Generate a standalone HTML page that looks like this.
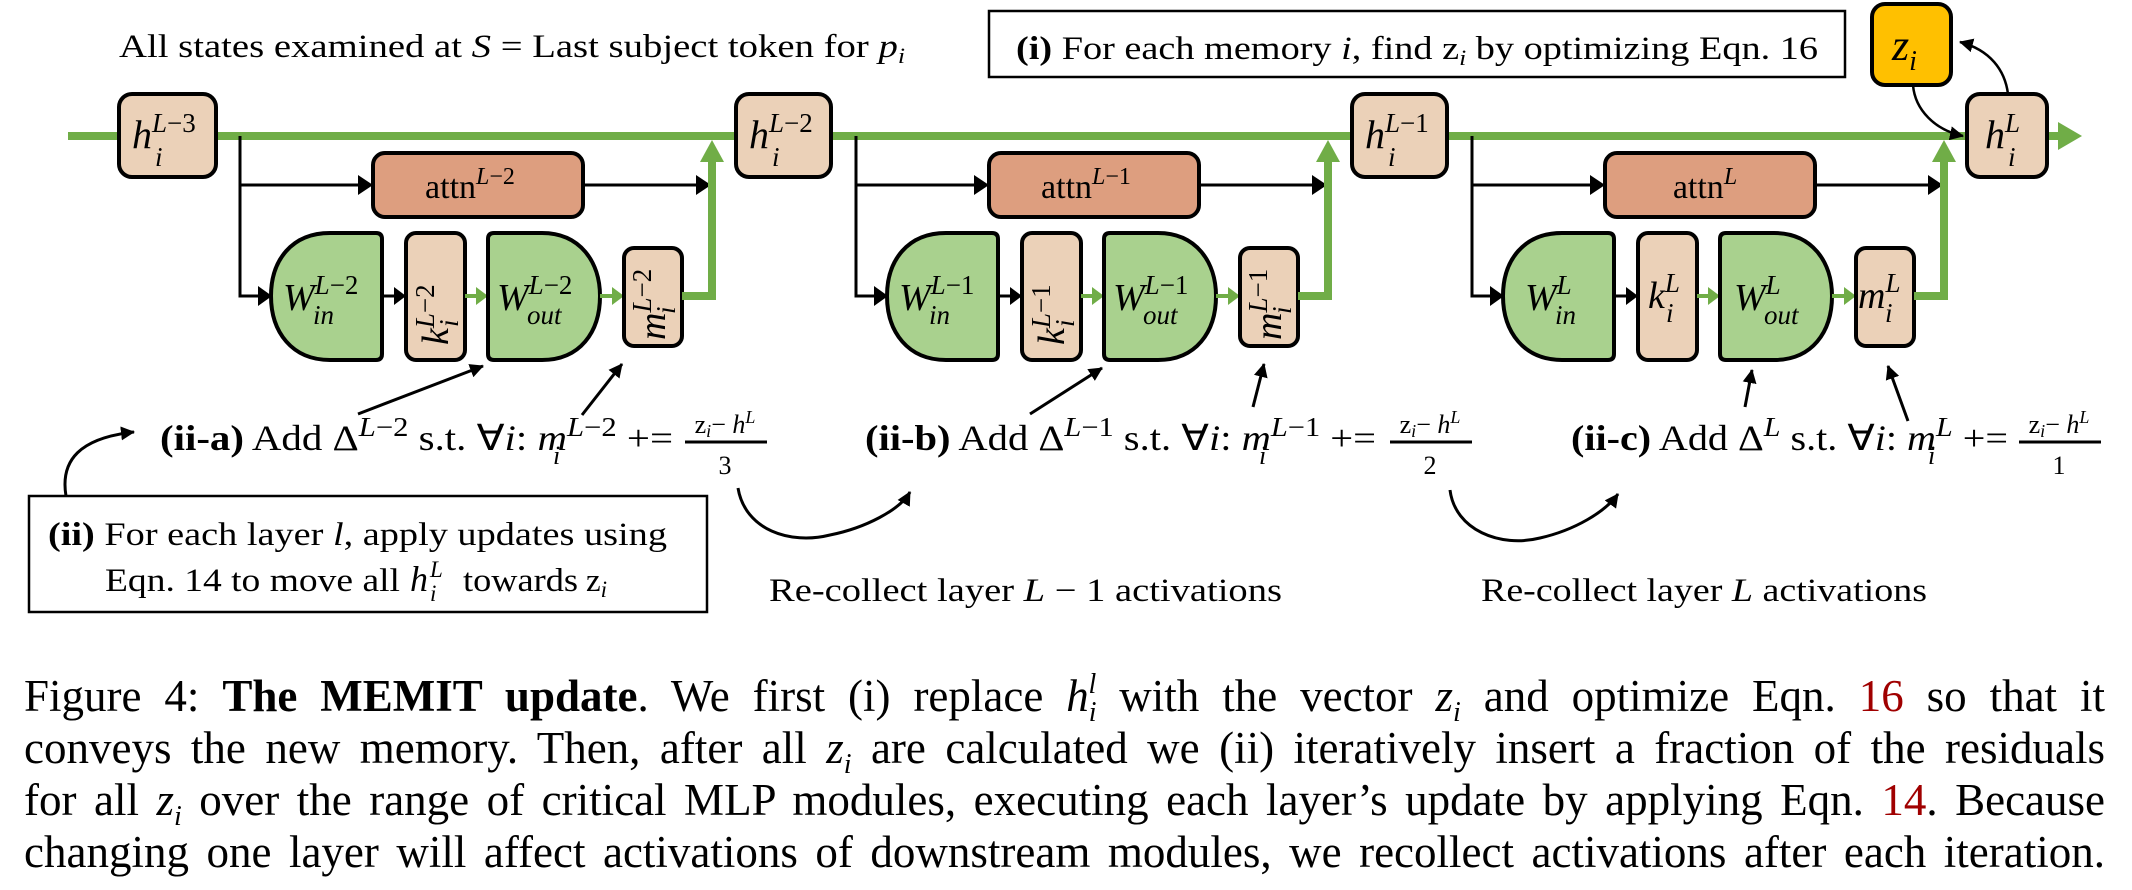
<!DOCTYPE html>
<html><head><meta charset="utf-8"><style>
body{margin:0;width:2132px;height:890px;background:#fff;overflow:hidden;position:relative;font-family:"Liberation Serif",serif}
svg{position:absolute;left:0;top:0}
.cap{position:absolute;left:24px;width:2081px;font-size:45px;line-height:52px;height:52px;text-align:justify;text-align-last:justify;white-space:nowrap;color:#000}
.r{color:#a00000}
.sb{position:relative;top:10px;font-size:28px;line-height:0}
.sp{position:relative;top:-18px;font-size:28px;line-height:0}
</style></head><body>
<svg width="2132" height="650" viewBox="0 0 2132 650" font-family="Liberation Serif, serif">
<defs>
<marker id="abk" markerWidth="14" markerHeight="14" refX="13" refY="7" orient="auto" markerUnits="userSpaceOnUse" viewBox="0 0 14 14"><path d="M0,0L14,7L0,14Z" fill="#000"/></marker>
</defs>
<line x1="68" y1="136" x2="2060" y2="136" stroke="#70ad47" stroke-width="8"/>
<path d="M2058,122L2082,136L2058,150Z" fill="#70ad47"/>

<g id="s1">
<polyline points="240,136 240,296 262,296" fill="none" stroke="#000" stroke-width="3"/>
<path d="M258,286L272,296L258,306Z"/>
<line x1="240" y1="185" x2="362" y2="185" stroke="#000" stroke-width="3"/><path d="M358,175L373,185L358,195Z"/>
<rect x="373" y="153" width="210" height="64" rx="12" fill="#dd9e7f" stroke="#000" stroke-width="4"/>
<line x1="583" y1="185" x2="700" y2="185" stroke="#000" stroke-width="3"/><path d="M696,175L711,185L696,195Z"/>
<path d="M330,233H376q6,0 6,6V354q0,6-6,6H330C292,360 271,332 271,296C271,260 292,233 330,233Z" fill="#a9d18e" stroke="#000" stroke-width="4"/>
<line x1="382" y1="296" x2="396" y2="296" stroke="#000" stroke-width="3"/><path d="M394,287L406,296L394,305Z"/>
<rect x="406" y="233" width="59" height="127" rx="10" fill="#ebd1b8" stroke="#000" stroke-width="4"/>
<line x1="465" y1="296" x2="478" y2="296" stroke="#70ad47" stroke-width="4"/><path d="M476,287L488,296L476,305Z" fill="#70ad47"/>
<path d="M494,233H542C580,233 600,262 600,296C600,332 580,360 542,360H494q-6,0-6-6V239q0-6 6-6Z" fill="#a9d18e" stroke="#000" stroke-width="4"/>
<line x1="600" y1="296" x2="614" y2="296" stroke="#70ad47" stroke-width="4"/><path d="M612,287L624,296L612,305Z" fill="#70ad47"/>
<rect x="624" y="248" width="58" height="98" rx="10" fill="#ebd1b8" stroke="#000" stroke-width="4"/>
<polyline points="682,296 712,296 712,160" fill="none" stroke="#70ad47" stroke-width="8"/>
<path d="M700,162L712,140L724,162Z" fill="#70ad47"/>
</g>
<use href="#s1" x="616"/>
<use href="#s1" x="1232"/>

<rect x="119" y="94" width="97" height="83" rx="13" fill="#ebd1b8" stroke="#000" stroke-width="4"/>
<rect x="736" y="94" width="95" height="83" rx="13" fill="#ebd1b8" stroke="#000" stroke-width="4"/>
<rect x="1352" y="94" width="95" height="83" rx="13" fill="#ebd1b8" stroke="#000" stroke-width="4"/>
<rect x="1967" y="94" width="80" height="83" rx="13" fill="#ebd1b8" stroke="#000" stroke-width="4"/>
<rect x="1872" y="4" width="79" height="81" rx="13" fill="#ffc000" stroke="#000" stroke-width="4"/>

<g font-style="italic" font-size="40">
<text x="132" y="148">h<tspan font-size="27" dy="-16">L</tspan><tspan font-size="27" font-style="normal">−3</tspan></text><text x="155" y="166" font-size="27">i</text>
<text x="749" y="148">h<tspan font-size="27" dy="-16">L</tspan><tspan font-size="27" font-style="normal">−2</tspan></text><text x="772" y="166" font-size="27">i</text>
<text x="1365" y="148">h<tspan font-size="27" dy="-16">L</tspan><tspan font-size="27" font-style="normal">−1</tspan></text><text x="1388" y="166" font-size="27">i</text>
<text x="1985" y="148">h<tspan font-size="27" dy="-16">L</tspan></text><text x="2008" y="166" font-size="27">i</text>
<text x="1892" y="60" font-size="44">z<tspan font-size="28" dy="10">i</tspan></text>
</g>
<g font-size="34" text-anchor="middle">
<text x="470" y="198">attn<tspan font-size="24" dy="-14" font-style="italic">L</tspan><tspan font-size="24">−2</tspan></text>
<text x="1086" y="198">attn<tspan font-size="24" dy="-14" font-style="italic">L</tspan><tspan font-size="24">−1</tspan></text>
<text x="1705" y="198">attn<tspan font-size="24" dy="-14" font-style="italic">L</tspan></text>
</g>
<g font-style="italic" font-size="38">
<text x="283" y="310">W<tspan font-size="27" dy="-16">L</tspan><tspan font-size="27" font-style="normal">−2</tspan></text><text x="313" y="324" font-size="27">in</text>
<text x="899" y="310">W<tspan font-size="27" dy="-16">L</tspan><tspan font-size="27" font-style="normal">−1</tspan></text><text x="929" y="324" font-size="27">in</text>
<text x="1525" y="310">W<tspan font-size="27" dy="-16">L</tspan></text><text x="1555" y="324" font-size="27">in</text>
<text x="497" y="310">W<tspan font-size="27" dy="-16">L</tspan><tspan font-size="27" font-style="normal">−2</tspan></text><text x="527" y="324" font-size="27">out</text>
<text x="1113" y="310">W<tspan font-size="27" dy="-16">L</tspan><tspan font-size="27" font-style="normal">−1</tspan></text><text x="1143" y="324" font-size="27">out</text>
<text x="1734" y="310">W<tspan font-size="27" dy="-16">L</tspan></text><text x="1764" y="324" font-size="27">out</text>
<g transform="translate(448,345) rotate(-90)"><text x="0" y="0">k<tspan font-size="27" dy="-14">L</tspan><tspan font-size="27" font-style="normal">−2</tspan></text><text x="18" y="10" font-size="27">i</text></g>
<g transform="translate(1064,345) rotate(-90)"><text x="0" y="0">k<tspan font-size="27" dy="-14">L</tspan><tspan font-size="27" font-style="normal">−1</tspan></text><text x="18" y="10" font-size="27">i</text></g>
<g transform="translate(665,340) rotate(-90)"><text x="0" y="0">m<tspan font-size="27" dy="-14">L</tspan><tspan font-size="27" font-style="normal">−2</tspan></text><text x="26" y="10" font-size="27">i</text></g>
<g transform="translate(1281,340) rotate(-90)"><text x="0" y="0">m<tspan font-size="27" dy="-14">L</tspan><tspan font-size="27" font-style="normal">−1</tspan></text><text x="26" y="10" font-size="27">i</text></g>
<text x="1648" y="308">k<tspan font-size="27" dy="-16">L</tspan></text><text x="1666" y="322" font-size="27">i</text>
<text x="1858" y="308">m<tspan font-size="27" dy="-16">L</tspan></text><text x="1885" y="322" font-size="27">i</text>
</g>

<text x="119" y="57" font-size="33" textLength="786" lengthAdjust="spacingAndGlyphs">All states examined at <tspan font-style="italic">S</tspan> = Last subject token for <tspan font-style="italic">p</tspan><tspan font-style="italic" font-size="22" dy="6">i</tspan></text>
<rect x="989" y="11" width="856" height="66" fill="#fff" stroke="#000" stroke-width="2.5"/>
<text x="1016" y="59" font-size="33" textLength="802" lengthAdjust="spacingAndGlyphs"><tspan font-weight="bold">(i)</tspan> For each memory <tspan font-style="italic">i</tspan>, find z<tspan font-size="22" dy="6" font-style="italic">i</tspan><tspan dy="-6"> by optimizing Eqn. 16</tspan></text>

<path d="M2008,94C2005,70 1990,50 1960,42" fill="none" stroke="#000" stroke-width="2.5" marker-end="url(#abk)"/>
<path d="M1913,85C1915,110 1935,130 1963,136" fill="none" stroke="#000" stroke-width="2.5" marker-end="url(#abk)"/>

<g stroke="#000" stroke-width="3" fill="none" marker-end="url(#abk)">
<line x1="358" y1="414" x2="483" y2="366"/>
<line x1="582" y1="415" x2="622" y2="364"/>
<line x1="1030" y1="414" x2="1102" y2="368"/>
<line x1="1253" y1="407" x2="1264" y2="364"/>
<line x1="1745" y1="407" x2="1752" y2="370"/>
<line x1="1908" y1="421" x2="1888" y2="366"/>
<path d="M66,496C60,460 80,438 134,432"/>
<path d="M738,488C745,530 790,545 830,535C865,528 900,510 910,492"/>
<path d="M1450,490C1455,530 1500,548 1540,538C1575,530 1605,512 1618,494"/>
</g>

<g font-size="36">
<text x="160" y="450" textLength="513" lengthAdjust="spacingAndGlyphs"><tspan font-weight="bold">(ii-a)</tspan> Add Δ<tspan font-size="27" font-style="italic" dy="-14">L</tspan><tspan font-size="27">−2</tspan><tspan dy="14"> s.t. ∀</tspan><tspan font-style="italic">i</tspan>: <tspan font-style="italic">m</tspan><tspan font-size="27" font-style="italic" dy="-14">L</tspan><tspan font-size="27">−2</tspan><tspan dy="14"> +=</tspan></text>
<text x="553" y="464" font-size="26" font-style="italic">i</text>
<text x="865" y="450" textLength="511" lengthAdjust="spacingAndGlyphs"><tspan font-weight="bold">(ii-b)</tspan> Add Δ<tspan font-size="27" font-style="italic" dy="-14">L</tspan><tspan font-size="27">−1</tspan><tspan dy="14"> s.t. ∀</tspan><tspan font-style="italic">i</tspan>: <tspan font-style="italic">m</tspan><tspan font-size="27" font-style="italic" dy="-14">L</tspan><tspan font-size="27">−1</tspan><tspan dy="14"> +=</tspan></text>
<text x="1259" y="464" font-size="26" font-style="italic">i</text>
<text x="1571" y="450" textLength="437" lengthAdjust="spacingAndGlyphs"><tspan font-weight="bold">(ii-c)</tspan> Add Δ<tspan font-size="27" font-style="italic" dy="-14">L</tspan><tspan dy="14"> s.t. ∀</tspan><tspan font-style="italic">i</tspan>: <tspan font-style="italic">m</tspan><tspan font-size="27" font-style="italic" dy="-14">L</tspan><tspan dy="14"> +=</tspan></text>
<text x="1928" y="464" font-size="26" font-style="italic">i</text>
</g>
<g font-size="26" text-anchor="middle">
<text x="725" y="433">z<tspan font-size="18" dy="4" font-style="italic">i</tspan><tspan dy="-4">− </tspan><tspan font-style="italic">h</tspan><tspan font-size="18" font-style="italic" dy="-10">L</tspan></text>
<line x1="685" y1="442" x2="767" y2="442" stroke="#000" stroke-width="3"/><text x="725" y="474">3</text>
<text x="1430" y="433">z<tspan font-size="18" dy="4" font-style="italic">i</tspan><tspan dy="-4">− </tspan><tspan font-style="italic">h</tspan><tspan font-size="18" font-style="italic" dy="-10">L</tspan></text>
<line x1="1390" y1="442" x2="1472" y2="442" stroke="#000" stroke-width="3"/><text x="1430" y="474">2</text>
<text x="2059" y="433">z<tspan font-size="18" dy="4" font-style="italic">i</tspan><tspan dy="-4">− </tspan><tspan font-style="italic">h</tspan><tspan font-size="18" font-style="italic" dy="-10">L</tspan></text>
<line x1="2019" y1="442" x2="2101" y2="442" stroke="#000" stroke-width="3"/><text x="2059" y="474">1</text>
</g>

<rect x="29" y="496" width="678" height="116" fill="#fff" stroke="#000" stroke-width="2.5"/>
<text x="48" y="545" font-size="33" textLength="619" lengthAdjust="spacingAndGlyphs"><tspan font-weight="bold">(ii)</tspan> For each layer <tspan font-style="italic">l</tspan>, apply updates using</text>
<text x="105" y="591" font-size="33" textLength="295" lengthAdjust="spacingAndGlyphs">Eqn. 14 to move all</text>
<text x="410" y="591" font-size="36" font-style="italic">h</text>
<text x="430" y="577" font-size="23" font-style="italic">L</text>
<text x="430" y="601" font-size="23" font-style="italic">i</text>
<text x="463" y="591" font-size="33" textLength="115" lengthAdjust="spacingAndGlyphs">towards</text>
<text x="586" y="591" font-size="33">z<tspan font-size="23" font-style="italic" dy="6">i</tspan></text>
<text x="769" y="601" font-size="33" textLength="513" lengthAdjust="spacingAndGlyphs">Re-collect layer <tspan font-style="italic">L</tspan> − 1 activations</text>
<text x="1481" y="601" font-size="33" textLength="446" lengthAdjust="spacingAndGlyphs">Re-collect layer <tspan font-style="italic">L</tspan> activations</text>
</svg>

<div class="cap" style="top:670px">Figure 4: <b>The MEMIT update</b>. We first (i) replace <i>h<span class="sb">i</span><span class="sp" style="margin-left:-8px">l</span></i> with the vector <i>z<span class="sb">i</span></i> and optimize Eqn. <span class="r">16</span> so that it</div>
<div class="cap" style="top:722px">conveys the new memory. Then, after all <i>z<span class="sb">i</span></i> are calculated we (ii) iteratively insert a fraction of the residuals</div>
<div class="cap" style="top:774px">for all <i>z<span class="sb">i</span></i> over the range of critical MLP modules, executing each layer’s update by applying Eqn. <span class="r">14</span>. Because</div>
<div class="cap" style="top:826px">changing one layer will affect activations of downstream modules, we recollect activations after each iteration.</div>
</body></html>
